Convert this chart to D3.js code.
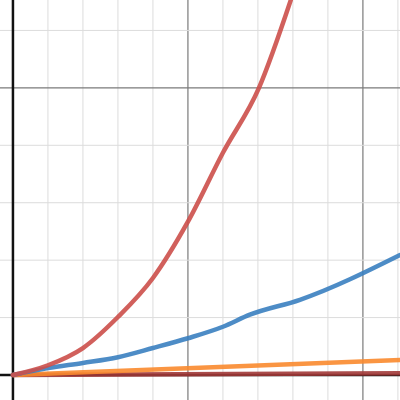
<!DOCTYPE html><html><head><script src="https://cdn.jsdelivr.net/npm/d3@7"></script>
<style>body{margin:0}</style></head><body><svg id="c" width="400" height="400"></svg>
<script>
const redX=[0,1,2,3,4,5,6,7.03,7.94];
const redY=[0,0.17,0.47,1.01,1.69,2.67,3.87,5.0,6.53];
const blueX=[0,1,2,3,4,5,6,6.77,8.2,11.06];
const blueY=[0,0.12,0.21,0.31,0.47,0.64,0.84,1.05,1.31,2.09];
const orangeX=[0,11.06];
const orangeY=[0,0.26];
const darkX=[0,11.06];
const darkY=[0,0.03];
const W=400,H=400;
const x=d3.scaleLinear().domain([-0.37,11.06]).range([0,W]);
const y=d3.scaleLinear().domain([-0.435,6.53]).range([H,0]);
const svg=d3.select("#c");
svg.append("rect").attr("width",W).attr("height",H).attr("fill","#fff");
const g=svg.append("g");
d3.range(0,12).forEach(v=>g.append("line").attr("x1",x(v)).attr("x2",x(v)).attr("y1",0).attr("y2",H)
  .attr("stroke",v%5===0?"#7a7a7a":"#dcdcdc").attr("stroke-width",v%5===0?1.2:1));
d3.range(0,7).forEach(v=>g.append("line").attr("y1",y(v)).attr("y2",y(v)).attr("x1",0).attr("x2",W)
  .attr("stroke",v%5===0?"#7a7a7a":"#dcdcdc").attr("stroke-width",v%5===0?1.2:1));
g.append("line").attr("x1",x(0)).attr("x2",x(0)).attr("y1",0).attr("y2",H).attr("stroke","#111").attr("stroke-width",2.5);
g.append("line").attr("y1",y(0)).attr("y2",y(0)).attr("x1",0).attr("x2",W).attr("stroke","#111").attr("stroke-width",2.5);
const line=d3.line().x(d=>x(d[0])).y(d=>y(d[1])).curve(d3.curveMonotoneX);
function draw(xs,ys,c){svg.append("path").attr("d",line(xs.map((v,i)=>[v,ys[i]])))
  .attr("fill","none").attr("stroke",c).attr("stroke-width",4.5).attr("stroke-opacity",0.9).attr("stroke-linecap","round");}
draw(darkX,darkY,"#a23a38");
draw(orangeX,orangeY,"#fa8a2e");
draw(blueX,blueY,"#3a7fc0");
draw(redX,redY,"#cc4f4a");
</script></body></html>
